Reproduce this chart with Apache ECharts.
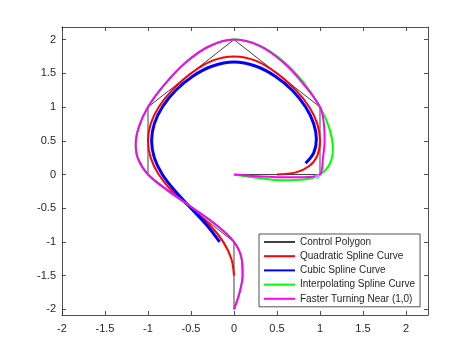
<!DOCTYPE html>
<html>
<head>
<meta charset="utf-8">
<script src="https://cdn.jsdelivr.net/npm/echarts@6/dist/echarts.min.js"></script>
<style>
  html, body { margin: 0; padding: 0; background: #fff; }
  #chart { width: 474px; height: 355px; }
</style>
</head>
<body>
<div id="chart"></div>
<script>
// tick labels
const xTicks = [-2, -1.5, -1, -0.5, 0, 0.5, 1, 1.5, 2];
const yTicks = [-2, -1.5, -1, -0.5, 0, 0.5, 1, 1.5, 2];

// control polygon vertices
const controlPolygon = [[0, -2], [0, -1], [-1, 0], [-1, 1], [0, 2], [1, 1], [1, 0], [0, 0]];

// points
const quadraticCurve = [
  [0, -1.5], [-0.031, -1.25], [-0.125, -1], [-0.281, -0.75], [-0.5, -0.5], [-0.719, -0.25],
  [-0.875, 0], [-0.969, 0.25], [-1, 0.5], [-0.969, 0.75], [-0.875, 1], [-0.719, 1.25],
  [-0.5, 1.5], [-0.25, 1.688], [0, 1.75], [0.25, 1.688], [0.5, 1.5], [0.719, 1.25],
  [0.875, 1], [0.969, 0.75], [1, 0.5], [0.969, 0.281], [0.875, 0.125], [0.719, 0.031], [0.5, 0]
];
const cubicCurve = [
  [-0.167, -1], [-0.318, -0.75], [-0.5, -0.5], [-0.682, -0.25], [-0.833, 0], [-0.927, 0.25],
  [-0.958, 0.5], [-0.927, 0.75], [-0.833, 1], [-0.68, 1.245], [-0.479, 1.458], [-0.247, 1.609],
  [0, 1.667], [0.247, 1.609], [0.479, 1.458], [0.68, 1.245], [0.833, 1], [0.927, 0.753],
  [0.958, 0.521], [0.927, 0.32], [0.833, 0.167]
];
const interpolatingCurve = [
  [0, -2], [0.065, -1.75], [0.1, -1.5], [0.09, -1.26], [0, -1], [-0.212, -0.744],
  [-0.487, -0.489], [-0.769, -0.239], [-1, 0], [-1.115, 0.23], [-1.143, 0.45], [-1.105, 0.71],
  [-1, 1], [-0.809, 1.332], [-0.569, 1.653], [-0.294, 1.898], [0, 2], [0.295, 1.914],
  [0.573, 1.678], [0.815, 1.354], [1, 1], [1.113, 0.669], [1.15, 0.383], [1.113, 0.155],
  [1, 0], [0.815, -0.075], [0.575, -0.086], [0.297, -0.054], [0, 0]
];
const fasterTurningCurve = [
  [0, -2], [0.065, -1.75], [0.1, -1.5], [0.09, -1.26], [0, -1], [-0.212, -0.744],
  [-0.487, -0.489], [-0.769, -0.239], [-1, 0], [-1.115, 0.23], [-1.143, 0.45], [-1.105, 0.71],
  [-1, 1], [-0.809, 1.332], [-0.569, 1.653], [-0.294, 1.898], [0, 2], [0.29, 1.91],
  [0.565, 1.67], [0.805, 1.345], [1, 1], [1.045, 0.75], [1.053, 0.5], [1.035, 0.25],
  [1, 0], [0.8, -0.04], [0.55, -0.04], [0.28, -0.025], [0, 0]
];
const cornerDot = [[0.97, -0.035]];

const TEXT = '#262626';
const FONT = 'Liberation Sans';

const chart = echarts.init(document.getElementById('chart'), null, { renderer: 'canvas' });

const mirrorAxis = (extra) => Object.assign({
  type: 'value',
  axisLine: { show: true, onZero: false, lineStyle: { color: TEXT, width: 0.8 } },
  axisTick: { show: true, inside: true, length: 4, lineStyle: { color: TEXT, width: 0.8 } },
  axisLabel: { show: false },
  splitLine: { show: false },
}, extra);

const curve = (name, data, color, width, z) => ({
  name,
  type: 'line',
  data,
  smooth: 0.35,
  symbol: 'none',
  z,
  lineStyle: { color, width },
  itemStyle: { color },
});

chart.setOption({
  animation: false,
  backgroundColor: '#fff',
  grid: { left: 62, right: 46, top: 27, bottom: 40, outerBoundsMode: 'none' },
  xAxis: [
    mirrorAxis({
      min: -2, max: 2.256, position: 'bottom',
      axisTick: { show: true, inside: true, length: 4, customValues: xTicks, lineStyle: { color: TEXT, width: 0.8 } },
      axisLabel: { show: true, customValues: xTicks, color: TEXT, fontSize: 11, fontFamily: FONT, margin: 8 },
    }),
    mirrorAxis({
      min: -2, max: 2.256, position: 'top',
      axisTick: { show: true, inside: true, length: 4, customValues: xTicks, lineStyle: { color: TEXT, width: 0.8 } },
    }),
  ],
  yAxis: [
    mirrorAxis({
      min: -2.084, max: 2.187, position: 'left',
      axisTick: { show: true, inside: true, length: 4, customValues: yTicks, lineStyle: { color: TEXT, width: 0.8 } },
      axisLabel: { show: true, customValues: yTicks, color: TEXT, fontSize: 11, fontFamily: FONT, margin: 6 },
    }),
    mirrorAxis({
      min: -2.084, max: 2.187, position: 'right',
      axisTick: { show: true, inside: true, length: 4, customValues: yTicks, lineStyle: { color: TEXT, width: 0.8 } },
    }),
  ],
  legend: {
    data: ['Control Polygon', 'Quadratic Spline Curve', 'Cubic Spline Curve',
      'Interpolating Spline Curve', 'Faster Turning Near (1,0)'],
    orient: 'vertical',
    left: 259,
    top: 234,
    padding: [3, 5, 3, 4],
    itemWidth: 31,
    itemHeight: 10,
    itemGap: 4.2,
    backgroundColor: '#fff',
    borderColor: TEXT,
    borderWidth: 0.8,
    borderRadius: 0,
    itemStyle: { opacity: 0, borderWidth: 0 },
    textStyle: { color: TEXT, fontSize: 10, fontFamily: FONT },
  },
  series: [
    {
      name: 'Control Polygon',
      type: 'line',
      data: controlPolygon,
      symbol: 'none',
      z: 1,
      lineStyle: { color: '#404040', width: 1 },
      itemStyle: { color: '#404040' },
    },
    curve('Quadratic Spline Curve', quadraticCurve, '#ff0000', 2, 2),
    curve('Cubic Spline Curve', cubicCurve, '#0000ff', 3, 3),
    curve('Interpolating Spline Curve', interpolatingCurve, '#00ff00', 2, 4),
    curve('Faster Turning Near (1,0)', fasterTurningCurve, '#ff00ff', 2, 5),
    {
      type: 'scatter',
      data: cornerDot,
      symbolSize: 5,
      z: 6,
      itemStyle: { color: '#80c8f0' },
    },
  ],
});
</script>
</body>
</html>
